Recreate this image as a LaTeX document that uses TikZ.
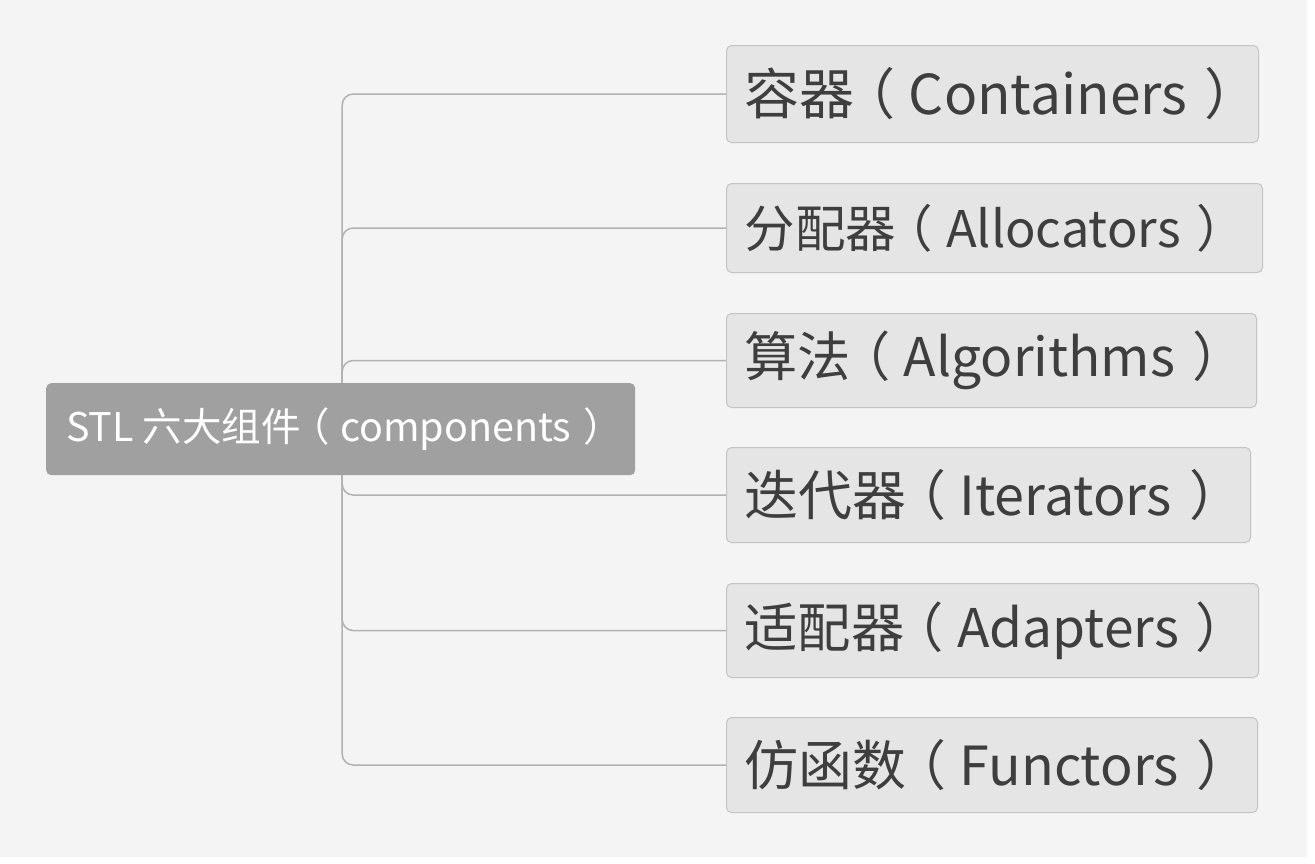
\documentclass[tikz,border=0pt]{standalone}
\usepackage{fontspec}
\setmainfont{Noto Sans CJK SC}
\usetikzlibrary{backgrounds}
\definecolor{bgc}{HTML}{F4F4F4}
\definecolor{rootc}{HTML}{A0A0A0}
\definecolor{childc}{HTML}{E5E5E5}
\definecolor{childb}{HTML}{C4C4C4}
\definecolor{linec}{HTML}{B2B2B2}
\definecolor{textc}{HTML}{3E3E3E}
\newcommand{\lp}{\kern-0.26em（\kern0.25em}
\newcommand{\rp}{\kern0.32em）}
\newcommand{\fs}[1]{\fontsize{#1}{#1}\selectfont}
\tikzset{
  rootbox/.style={fill=rootc, rounded corners=5pt, text=white, anchor=north west,
    minimum height=92pt, text width=549pt, inner xsep=20pt, inner ysep=0pt, align=left,
    font=\fs{39.5}},
  childbox/.style={fill=childc, draw=childb, line width=1pt, rounded corners=5pt, text=textc,
    anchor=north west, inner xsep=18pt, inner ysep=0pt, align=left},
  conn/.style={draw=linec, line width=1.5pt, rounded corners=11pt}
}
\begin{document}
\begin{tikzpicture}[x=1pt,y=-1pt]
\useasboundingbox (0,0) rectangle (1315,863);
\node[rootbox] (root) at (46,383) {\mbox{STL\kern9pt 六大组件\lp components\rp}};
\node[childbox, text width=496pt, minimum height=97pt, font=\fs{55}] (c1) at (726,45) {\mbox{容器\lp Containers\rp}};
\node[childbox, text width=500pt, minimum height=89pt, font=\fs{50.5}] (c2) at (726,183) {\mbox{分配器\lp Allocators\rp}};
\node[childbox, text width=494pt, minimum height=94pt, font=\fs{53.3}] (c3) at (726,313) {\mbox{算法\lp Algorithms\rp}};
\node[childbox, text width=488pt, minimum height=95pt, font=\fs{53.9}] (c4) at (726,447) {\mbox{迭代器\lp Iterators\rp}};
\node[childbox, text width=496pt, minimum height=94pt, font=\fs{53.3}] (c5) at (726,583) {\mbox{适配器\lp Adapters\rp}};
\node[childbox, text width=495pt, minimum height=95pt, font=\fs{53.9}] (c6) at (726,717) {\mbox{仿函数\lp Functors\rp}};
\begin{scope}[on background layer]
\fill[white] (0,0) rectangle (1315,863);
\fill[bgc] (0,0) rectangle (1307,857);
\foreach \c in {c1,c2,c3,c4,c5,c6}
  \draw[conn] ([xshift=1.5pt]root.center) |- (\c.west);
\end{scope}
\end{tikzpicture}
\end{document}
